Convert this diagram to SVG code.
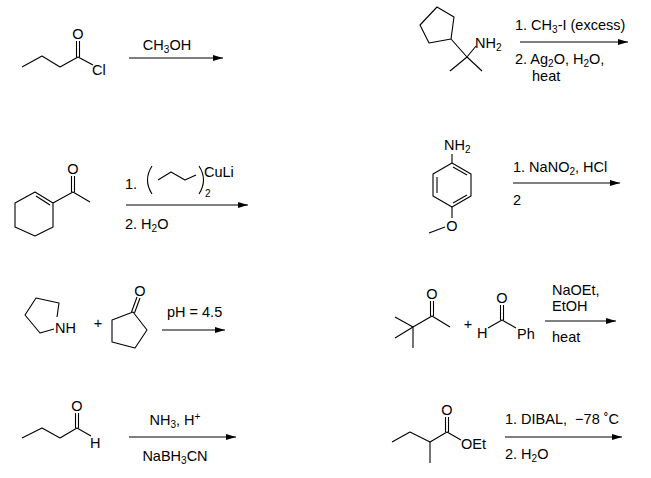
<svg xmlns="http://www.w3.org/2000/svg" width="651" height="478" viewBox="0 0 651 478">
<defs>
<marker id="ah" viewBox="0 0 10 6" refX="10" refY="3" markerWidth="10" markerHeight="6" markerUnits="userSpaceOnUse" orient="auto"><path d="M0,0 L10,3 L0,6 z" fill="#000"/></marker>
<style>
.b{fill:none;stroke:#000;stroke-width:1.1;stroke-linejoin:round}
.a{stroke:#000;stroke-width:1.1;marker-end:url(#ah)}
text{font-family:"Liberation Sans",Arial,sans-serif;font-size:14.5px;fill:#000}
.s{font-size:10px}
</style>
</defs>
<rect width="651" height="478" fill="#fff"/>
<g id="connectors">
<line class="a" x1="129" y1="58" x2="223" y2="58"/>
<line class="a" x1="126" y1="205" x2="248" y2="205"/>
<line class="a" x1="520" y1="42" x2="628" y2="42"/>
<line class="a" x1="513" y1="183" x2="620" y2="183"/>
<line class="a" x1="162" y1="330" x2="225" y2="330"/>
<line class="a" x1="545" y1="321" x2="616" y2="321"/>
<line class="a" x1="129" y1="437" x2="236" y2="437"/>
<line class="a" x1="505" y1="437" x2="622" y2="437"/>
</g>
<g id="acyl-chloride">
<polyline class="b" points="22,67 42,56 60,67 78,57 93,65"/>
<line class="b" x1="76.5" y1="57" x2="76.5" y2="41"/><line class="b" x1="79.5" y1="57" x2="79.5" y2="41"/>
<text x="78" y="39" text-anchor="middle">O</text>
<text x="92" y="75">Cl</text>
<text x="167" y="50" text-anchor="middle">CH<tspan class="s" dy="3">3</tspan><tspan dy="-3">OH</tspan></text>
</g>
<g id="enone">
<polygon class="b" points="15,203 15,227 35,236 53,227 53,203 35,192"/>
<line class="b" x1="36" y1="196" x2="50" y2="205"/>
<polyline class="b" points="53,203 73,192 90,202"/>
<line class="b" x1="71.5" y1="192" x2="71.5" y2="176"/><line class="b" x1="74.5" y1="192" x2="74.5" y2="176"/>
<text x="73" y="174" text-anchor="middle">O</text>
<text x="125" y="189">1.</text>
<path class="b" d="M152,166 Q143,180 152,194"/>
<polyline class="b" points="158,180 171,172 185,180 196,175"/>
<path class="b" d="M199,166 Q208,180 199,194"/>
<text x="204" y="177">CuLi</text>
<text x="205" y="197" class="s">2</text>
<text x="125" y="229">2. H<tspan class="s" dy="3">2</tspan><tspan dy="-3">O</tspan></text>
</g>
<g id="amine">
<polygon class="b" points="420,25 437,7 454,17 451,39 429,43"/>
<polyline class="b" points="451,39 467,57 450,71"/>
<line class="b" x1="467" y1="57" x2="482" y2="71"/>
<line class="b" x1="467" y1="57" x2="476" y2="46"/>
<text x="475" y="48">NH<tspan class="s" dy="3">2</tspan></text>
<text x="515" y="30">1. CH<tspan class="s" dy="3">3</tspan><tspan dy="-3">-I (excess)</tspan></text>
<text x="515" y="64">2. Ag<tspan class="s" dy="3">2</tspan><tspan dy="-3">O, H</tspan><tspan class="s" dy="3">2</tspan><tspan dy="-3">O,</tspan></text>
<text x="532" y="81">heat</text>
</g>
<g id="anisidine">
<text x="444" y="150">NH<tspan class="s" dy="3">2</tspan></text>
<line class="b" x1="452" y1="154" x2="452" y2="163"/>
<polygon class="b" points="452,163 471,174 471,196 452,207 433,196 433,174"/>
<line class="b" x1="437" y1="177" x2="437" y2="193"/>
<line class="b" x1="453" y1="167" x2="467" y2="175"/>
<line class="b" x1="467" y1="195" x2="453" y2="203"/>
<line class="b" x1="452" y1="207" x2="452" y2="218"/>
<text x="452" y="231" text-anchor="middle">O</text>
<line class="b" x1="429" y1="233" x2="445" y2="227"/>
<text x="513" y="172">1. NaNO<tspan class="s" dy="3">2</tspan><tspan dy="-3">, HCl</tspan></text>
<text x="513" y="205">2</text>
</g>
<g id="pyrrolidine">
<polyline class="b" points="57,317 59,303 36,298 25,315 40,333 54,329"/>
<text x="55" y="333">NH</text>
<text x="98" y="328" text-anchor="middle">+</text>
</g>
<g id="cyclopentanone">
<polygon class="b" points="112,320 133,312 147,330 135,348 112,342"/>
<line class="b" x1="131.5" y1="312" x2="137" y2="297"/><line class="b" x1="134.5" y1="313" x2="140" y2="298"/>
<text x="140" y="296" text-anchor="middle">O</text>
<text x="167" y="317">pH = 4.5</text>
</g>
<g id="ketone">
<line class="b" x1="395" y1="317" x2="413" y2="327"/>
<line class="b" x1="395" y1="338" x2="413" y2="327"/>
<line class="b" x1="413" y1="327" x2="413" y2="348"/>
<polyline class="b" points="413,327 432,316 450,327"/>
<line class="b" x1="430.5" y1="316" x2="430.5" y2="301"/><line class="b" x1="433.5" y1="316" x2="433.5" y2="301"/>
<text x="432" y="299" text-anchor="middle">O</text>
<text x="468" y="329" text-anchor="middle">+</text>
</g>
<g id="benzaldehyde">
<text x="477" y="338">H</text>
<polyline class="b" points="488,328 502,320 516,328"/>
<line class="b" x1="500.5" y1="320" x2="500.5" y2="305"/><line class="b" x1="503.5" y1="320" x2="503.5" y2="305"/>
<text x="502" y="303" text-anchor="middle">O</text>
<text x="517" y="339">Ph</text>
<text x="552" y="295">NaOEt,</text>
<text x="552" y="311">EtOH</text>
<text x="552" y="342">heat</text>
</g>
<g id="butanal">
<polyline class="b" points="22,438 42,428 60,438 77,428 91,436"/>
<line class="b" x1="75.5" y1="428" x2="75.5" y2="413"/><line class="b" x1="78.5" y1="428" x2="78.5" y2="413"/>
<text x="77" y="411" text-anchor="middle">O</text>
<text x="90" y="448">H</text>
<text x="175" y="425" text-anchor="middle">NH<tspan class="s" dy="3">3</tspan><tspan dy="-3">, H</tspan><tspan class="s" dy="-5">+</tspan></text>
<text x="175" y="461" text-anchor="middle">NaBH<tspan class="s" dy="3">3</tspan><tspan dy="-3">CN</tspan></text>
</g>
<g id="ester">
<polyline class="b" points="392,442 410,432 430,442 447,432 461,440"/>
<line class="b" x1="430" y1="442" x2="430" y2="463"/>
<line class="b" x1="445.5" y1="432" x2="445.5" y2="417"/><line class="b" x1="448.5" y1="432" x2="448.5" y2="417"/>
<text x="447" y="415" text-anchor="middle">O</text>
<text x="461" y="449">OEt</text>
<text x="505" y="424" xml:space="preserve">1. DIBAL,  −78 ˚C</text>
<text x="505" y="459">2. H<tspan class="s" dy="3">2</tspan><tspan dy="-3">O</tspan></text>
</g>
</svg>
